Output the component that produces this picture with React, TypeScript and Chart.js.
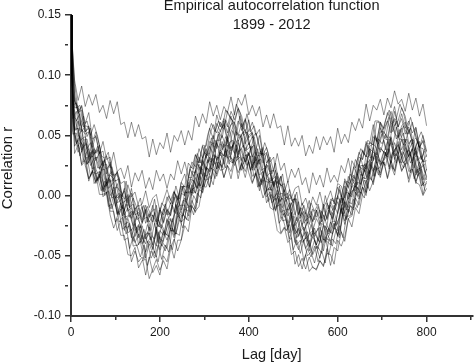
import { useEffect, useRef } from 'react';
import { Chart, registerables } from 'chart.js';

Chart.register(...registerables);

const TITLE_LINES = ['Empirical autocorrelation function', '1899 - 2012'];
const X_TITLE = 'Lag [day]';
const Y_TITLE = 'Correlation r';

const X_TICK_VALUES = [0, 100, 200, 300, 400, 500, 600, 700, 800, 900];
const X_LABELED_TICKS = [0, 200, 400, 600, 800];
const Y_LABELED_TICKS = [-0.1, -0.05, 0, 0.05, 0.1, 0.15];

// lag grid of the first group of runs
const LAGS_A = [0, 2,
  8, 16, 24, 32, 40, 48, 56, 64, 72, 80,
  88, 96, 104, 112, 120, 128, 136, 144, 152, 160,
  168, 176, 184, 192, 200, 208, 216, 224, 232, 240,
  248, 256, 264, 272, 280, 288, 296, 304, 312, 320,
  328, 336, 344, 352, 360, 368, 376, 384, 392, 400,
  408, 416, 424, 432, 440, 448, 456, 464, 472, 480,
  488, 496, 504, 512, 520, 528, 536, 544, 552, 560,
  568, 576, 584, 592, 600, 608, 616, 624, 632, 640,
  648, 656, 664, 672, 680, 688, 696, 704, 712, 720,
  728, 736, 744, 752, 760, 768, 776, 784, 792, 800];

// lag grid of the second group of runs
const LAGS_B = [0, 1,
  4, 12, 20, 28, 36, 44, 52, 60, 68, 76,
  84, 92, 100, 108, 116, 124, 132, 140, 148, 156,
  164, 172, 180, 188, 196, 204, 212, 220, 228, 236,
  244, 252, 260, 268, 276, 284, 292, 300, 308, 316,
  324, 332, 340, 348, 356, 364, 372, 380, 388, 396,
  404, 412, 420, 428, 436, 444, 452, 460, 468, 476,
  484, 492, 500, 508, 516, 524, 532, 540, 548, 556,
  564, 572, 580, 588, 596, 604, 612, 620, 628, 636,
  644, 652, 660, 668, 676, 684, 692, 700, 708, 716,
  724, 732, 740, 748, 756, 764, 772, 780, 788, 796];

const runA01 = [1, 0.11, 0.066, 0.049, 0.055, 0.034, 0.039, 0.022, 0.032, 0.022, 0.029, 0.010,
  0.014, 0.000, 0.010, -0.004, 0.006, -0.013, -0.010, -0.023, -0.010, -0.022,
  -0.011, -0.022, -0.016, -0.030, -0.012, -0.023, -0.012, -0.016, -0.001, -0.015,
  0.002, 0.000, 0.011, 0.002, 0.015, 0.008, 0.029, 0.021, 0.032, 0.025,
  0.044, 0.033, 0.043, 0.031, 0.041, 0.035, 0.046, 0.029, 0.040, 0.033,
  0.041, 0.023, 0.030, 0.018, 0.024, 0.005, 0.012, -0.001, 0.010, -0.003,
  -0.001, -0.017, -0.002, -0.020, -0.014, -0.021, -0.012, -0.029, -0.019, -0.025,
  -0.010, -0.020, -0.008, -0.014, -0.005, -0.015, 0.008, -0.003, 0.008, 0.004,
  0.022, 0.016, 0.026, 0.018, 0.040, 0.027, 0.040, 0.036, 0.045, 0.031,
  0.044, 0.035, 0.047, 0.035, 0.038, 0.027, 0.040, 0.024, 0.030, 0.013];

const runA02 = [1, 0.10, 0.054, 0.056, 0.038, 0.046, 0.031, 0.037, 0.018, 0.020, 0.004, 0.014,
  0.000, 0.005, -0.016, -0.011, -0.029, -0.019, -0.029, -0.023, -0.041, -0.033,
  -0.047, -0.038, -0.044, -0.030, -0.045, -0.030, -0.037, -0.027, -0.035, -0.014,
  -0.022, -0.011, -0.013, 0.006, 0.002, 0.019, 0.007, 0.024, 0.020, 0.034,
  0.022, 0.038, 0.033, 0.047, 0.039, 0.045, 0.032, 0.048, 0.033, 0.035,
  0.021, 0.032, 0.017, 0.020, 0.005, 0.015, -0.002, 0.002, -0.019, -0.015,
  -0.026, -0.017, -0.039, -0.028, -0.039, -0.035, -0.046, -0.031, -0.041, -0.033,
  -0.046, -0.031, -0.038, -0.027, -0.029, -0.010, -0.024, -0.005, -0.007, 0.008,
  -0.001, 0.015, 0.014, 0.030, 0.016, 0.036, 0.028, 0.037, 0.032, 0.049,
  0.036, 0.045, 0.031, 0.040, 0.033, 0.039, 0.019, 0.028, 0.013, 0.022];

const runA03 = [1, 0.12, 0.078, 0.074, 0.055, 0.051, 0.053, 0.032, 0.038, 0.037, 0.019, 0.008,
  0.013, 0.000, -0.015, -0.009, -0.011, -0.031, -0.028, -0.039, -0.032, -0.039,
  -0.052, -0.040, -0.048, -0.051, -0.034, -0.040, -0.044, -0.029, -0.030, -0.015,
  -0.022, -0.019, 0.002, 0.005, 0.007, 0.024, 0.016, 0.033, 0.041, 0.035,
  0.046, 0.046, 0.060, 0.047, 0.059, 0.061, 0.045, 0.051, 0.055, 0.042,
  0.049, 0.029, 0.035, 0.035, 0.014, 0.011, 0.011, -0.009, -0.007, -0.018,
  -0.013, -0.023, -0.038, -0.045, -0.035, -0.044, -0.037, -0.049, -0.042, -0.052,
  -0.036, -0.038, -0.041, -0.023, -0.033, -0.024, -0.005, -0.014, 0.003, 0.008,
  0.005, 0.025, 0.022, 0.039, 0.036, 0.034, 0.053, 0.053, 0.048, 0.063,
  0.052, 0.048, 0.058, 0.061, 0.043, 0.047, 0.032, 0.040, 0.028, 0.029];

const runA04 = [1, 0.10, 0.055, 0.056, 0.036, 0.044, 0.030, 0.033, 0.012, 0.016, 0.003, 0.010,
  -0.013, -0.013, -0.029, -0.021, -0.037, -0.035, -0.055, -0.046, -0.055, -0.051,
  -0.066, -0.051, -0.064, -0.058, -0.066, -0.050, -0.055, -0.041, -0.052, -0.037,
  -0.037, -0.017, -0.021, -0.008, -0.014, 0.005, 0.003, 0.024, 0.020, 0.031,
  0.022, 0.036, 0.033, 0.046, 0.034, 0.050, 0.036, 0.039, 0.028, 0.036,
  0.025, 0.030, 0.008, 0.014, -0.001, 0.003, -0.011, -0.008, -0.031, -0.026,
  -0.039, -0.035, -0.057, -0.049, -0.061, -0.049, -0.063, -0.059, -0.062, -0.054,
  -0.059, -0.044, -0.058, -0.043, -0.046, -0.030, -0.038, -0.019, -0.017, -0.002,
  -0.008, 0.007, 0.003, 0.026, 0.020, 0.033, 0.025, 0.036, 0.034, 0.048,
  0.030, 0.043, 0.034, 0.043, 0.032, 0.039, 0.017, 0.024, 0.008, 0.010];

const runA05 = [1, 0.11, 0.052, 0.041, 0.047, 0.039, 0.027, 0.038, 0.022, 0.015, 0.025, 0.026,
  0.011, 0.014, 0.020, 0.004, -0.003, 0.009, -0.001, 0.003, -0.009, -0.007,
  0.004, -0.010, -0.002, 0.001, -0.013, -0.004, 0.005, -0.004, 0.004, -0.004,
  0.011, 0.018, 0.006, 0.012, 0.021, 0.013, 0.030, 0.022, 0.022, 0.035,
  0.030, 0.036, 0.026, 0.042, 0.031, 0.029, 0.044, 0.036, 0.028, 0.035,
  0.023, 0.036, 0.023, 0.014, 0.026, 0.019, 0.009, 0.019, 0.008, 0.010,
  -0.003, -0.002, 0.006, 0.008, -0.008, -0.002, -0.012, -0.001, -0.008, 0.003,
  -0.010, -0.004, 0.004, -0.007, 0.010, 0.008, -0.002, 0.016, 0.009, 0.013,
  0.026, 0.016, 0.027, 0.019, 0.030, 0.039, 0.026, 0.030, 0.039, 0.027,
  0.038, 0.042, 0.030, 0.025, 0.038, 0.029, 0.037, 0.022, 0.026, 0.016];

const runA06 = [1, 0.13, 0.085, 0.068, 0.075, 0.053, 0.056, 0.040, 0.050, 0.035, 0.037, 0.018,
  0.028, 0.016, 0.019, -0.001, 0.004, -0.009, 0.002, -0.016, -0.014, -0.023,
  -0.012, -0.029, -0.016, -0.022, -0.010, -0.022, -0.011, -0.017, 0.003, -0.003,
  0.008, 0.000, 0.015, 0.015, 0.034, 0.027, 0.041, 0.031, 0.045, 0.043,
  0.060, 0.053, 0.062, 0.052, 0.066, 0.050, 0.062, 0.057, 0.063, 0.048,
  0.052, 0.038, 0.050, 0.033, 0.036, 0.020, 0.021, 0.006, 0.016, 0.000,
  0.002, -0.012, 0.001, -0.015, -0.010, -0.026, -0.015, -0.021, -0.012, -0.024,
  -0.016, -0.025, -0.005, -0.012, 0.000, -0.006, 0.014, 0.006, 0.016, 0.014,
  0.032, 0.030, 0.045, 0.033, 0.049, 0.045, 0.060, 0.055, 0.062, 0.052,
  0.070, 0.057, 0.064, 0.051, 0.057, 0.043, 0.056, 0.040, 0.045, 0.032];

const runA07 = [1, 0.10, 0.041, 0.046, 0.025, 0.029, 0.012, 0.021, 0.010, 0.018, -0.001, 0.003,
  -0.011, 0.000, -0.015, -0.006, -0.024, -0.022, -0.035, -0.023, -0.035, -0.025,
  -0.036, -0.031, -0.045, -0.028, -0.040, -0.029, -0.033, -0.019, -0.033, -0.017,
  -0.019, -0.008, -0.017, -0.004, -0.011, 0.010, 0.002, 0.014, 0.007, 0.026,
  0.016, 0.026, 0.015, 0.025, 0.020, 0.032, 0.014, 0.027, 0.020, 0.029,
  0.011, 0.018, 0.007, 0.013, -0.006, 0.001, -0.012, -0.001, -0.014, -0.012,
  -0.029, -0.014, -0.032, -0.027, -0.035, -0.026, -0.043, -0.034, -0.041, -0.026,
  -0.037, -0.025, -0.031, -0.023, -0.034, -0.011, -0.021, -0.011, -0.016, 0.003,
  -0.003, 0.007, 0.000, 0.021, 0.009, 0.023, 0.019, 0.028, 0.015, 0.029,
  0.020, 0.033, 0.021, 0.025, 0.014, 0.028, 0.012, 0.019, 0.001, 0.012];

const runA08 = [1, 0.12, 0.073, 0.073, 0.053, 0.058, 0.057, 0.039, 0.029, 0.036, 0.024, 0.010,
  0.017, 0.014, -0.006, -0.004, -0.016, -0.010, -0.019, -0.034, -0.025, -0.035,
  -0.040, -0.026, -0.034, -0.042, -0.029, -0.033, -0.020, -0.029, -0.029, -0.009,
  -0.008, -0.008, 0.009, 0.000, 0.018, 0.026, 0.021, 0.034, 0.035, 0.050,
  0.039, 0.054, 0.059, 0.045, 0.053, 0.060, 0.050, 0.060, 0.043, 0.050,
  0.053, 0.034, 0.033, 0.035, 0.016, 0.019, 0.007, 0.012, 0.001, -0.014,
  -0.023, -0.014, -0.025, -0.020, -0.035, -0.030, -0.042, -0.029, -0.034, -0.039,
  -0.025, -0.037, -0.030, -0.014, -0.024, -0.009, -0.005, -0.010, 0.009, 0.007,
  0.024, 0.022, 0.020, 0.041, 0.043, 0.039, 0.056, 0.048, 0.046, 0.059,
  0.064, 0.049, 0.056, 0.044, 0.055, 0.045, 0.048, 0.040, 0.039, 0.021];

const runA09 = [1, 0.13, 0.093, 0.070, 0.074, 0.060, 0.069, 0.047, 0.049, 0.035, 0.045, 0.030,
  0.032, 0.012, 0.020, 0.010, 0.012, -0.006, 0.006, -0.011, -0.008, -0.020,
  -0.008, -0.018, -0.008, -0.024, -0.012, -0.016, -0.001, -0.007, 0.003, -0.007,
  0.011, 0.007, 0.027, 0.023, 0.034, 0.027, 0.042, 0.041, 0.056, 0.047,
  0.067, 0.057, 0.064, 0.057, 0.070, 0.063, 0.072, 0.054, 0.064, 0.053,
  0.061, 0.050, 0.055, 0.034, 0.040, 0.028, 0.032, 0.010, 0.016, 0.003,
  0.012, -0.004, -0.003, -0.016, -0.006, -0.015, -0.004, -0.022, -0.012, -0.019,
  -0.007, -0.019, -0.003, -0.005, 0.007, -0.001, 0.012, 0.007, 0.029, 0.023,
  0.036, 0.030, 0.043, 0.043, 0.059, 0.045, 0.061, 0.056, 0.069, 0.063,
  0.074, 0.057, 0.068, 0.056, 0.062, 0.052, 0.057, 0.040, 0.050, 0.037];

const runA10 = [1, 0.10, 0.035, 0.042, 0.026, 0.034, 0.014, 0.020, 0.011, 0.020, 0.005, 0.011,
  -0.005, 0.007, -0.002, 0.001, -0.013, 0.001, -0.019, -0.010, -0.017, -0.009,
  -0.023, -0.015, -0.022, -0.008, -0.026, -0.011, -0.016, -0.006, -0.014, 0.000,
  -0.012, -0.002, -0.009, 0.009, 0.002, 0.011, 0.005, 0.023, 0.007, 0.022,
  0.018, 0.029, 0.015, 0.025, 0.014, 0.029, 0.019, 0.026, 0.015, 0.028,
  0.016, 0.019, 0.004, 0.018, 0.004, 0.007, -0.005, 0.005, -0.005, 0.005,
  -0.013, -0.006, -0.016, -0.005, -0.024, -0.014, -0.024, -0.011, -0.018, -0.012,
  -0.024, -0.006, -0.016, -0.008, -0.015, 0.000, -0.015, 0.002, -0.001, 0.011,
  0.002, 0.015, 0.002, 0.015, 0.011, 0.028, 0.017, 0.028, 0.014, 0.025,
  0.017, 0.032, 0.020, 0.027, 0.011, 0.022, 0.010, 0.023, 0.009, 0.016];

const runA11 = [1, 0.12, 0.081, 0.069, 0.071, 0.053, 0.058, 0.044, 0.053, 0.042, 0.025, 0.022,
  0.026, 0.006, 0.007, 0.003, -0.018, -0.017, -0.013, -0.029, -0.024, -0.040,
  -0.032, -0.031, -0.041, -0.026, -0.036, -0.038, -0.019, -0.028, -0.017, -0.007,
  -0.015, 0.003, 0.002, 0.020, 0.019, 0.032, 0.025, 0.034, 0.050, 0.059,
  0.052, 0.061, 0.055, 0.070, 0.064, 0.060, 0.073, 0.066, 0.052, 0.063,
  0.048, 0.052, 0.040, 0.027, 0.035, 0.026, 0.008, 0.016, -0.002, -0.004,
  -0.017, -0.012, -0.019, -0.034, -0.023, -0.036, -0.032, -0.029, -0.044, -0.039,
  -0.024, -0.031, -0.022, -0.028, -0.015, -0.002, -0.010, -0.001, 0.014, 0.008,
  0.026, 0.037, 0.032, 0.044, 0.042, 0.061, 0.061, 0.051, 0.062, 0.070,
  0.058, 0.062, 0.073, 0.066, 0.051, 0.061, 0.048, 0.040, 0.046, 0.036];

const runA12 = [1, 0.10, 0.052, 0.036, 0.044, 0.025, 0.014, 0.020, 0.018, 0.001, 0.001, 0.003,
  -0.016, -0.027, -0.019, -0.033, -0.033, -0.049, -0.050, -0.043, -0.060, -0.054,
  -0.053, -0.069, -0.061, -0.053, -0.062, -0.054, -0.061, -0.044, -0.036, -0.046,
  -0.037, -0.025, -0.030, -0.009, -0.013, -0.009, 0.008, 0.007, 0.016, 0.009,
  0.028, 0.021, 0.022, 0.038, 0.032, 0.025, 0.033, 0.021, 0.034, 0.019,
  0.010, 0.019, 0.010, -0.002, 0.005, -0.010, -0.012, -0.029, -0.032, -0.027,
  -0.030, -0.049, -0.046, -0.059, -0.052, -0.061, -0.051, -0.060, -0.061, -0.054,
  -0.058, -0.048, -0.049, -0.057, -0.037, -0.042, -0.034, -0.019, -0.026, -0.010,
  -0.015, 0.001, 0.013, 0.004, 0.012, 0.024, 0.015, 0.029, 0.035, 0.026,
  0.021, 0.036, 0.027, 0.035, 0.020, 0.022, 0.011, 0.009, 0.000, 0.006];

const runA13 = [1, 0.11, 0.054, 0.062, 0.047, 0.049, 0.032, 0.044, 0.035, 0.042, 0.025, 0.033,
  0.023, 0.036, 0.020, 0.023, 0.014, 0.025, 0.007, 0.019, 0.012, 0.021,
  0.006, 0.015, 0.005, 0.021, 0.012, 0.018, 0.006, 0.018, 0.013, 0.029,
  0.018, 0.028, 0.015, 0.028, 0.024, 0.039, 0.031, 0.039, 0.029, 0.044,
  0.029, 0.043, 0.040, 0.049, 0.037, 0.044, 0.034, 0.050, 0.037, 0.044,
  0.032, 0.038, 0.026, 0.040, 0.027, 0.032, 0.020, 0.035, 0.021, 0.027,
  0.011, 0.022, 0.015, 0.023, 0.009, 0.015, 0.002, 0.019, 0.009, 0.017,
  0.007, 0.023, 0.011, 0.017, 0.011, 0.025, 0.019, 0.031, 0.016, 0.030,
  0.024, 0.038, 0.032, 0.039, 0.029, 0.048, 0.036, 0.046, 0.035, 0.044,
  0.033, 0.050, 0.038, 0.047, 0.038, 0.044, 0.034, 0.045, 0.028, 0.034];

const runA14 = [1, 0.13, 0.096, 0.079, 0.091, 0.074, 0.084, 0.075, 0.084, 0.069, 0.075, 0.064,
  0.079, 0.068, 0.078, 0.059, 0.061, 0.048, 0.061, 0.049, 0.059, 0.047,
  0.049, 0.032, 0.047, 0.034, 0.044, 0.039, 0.052, 0.036, 0.050, 0.045,
  0.054, 0.042, 0.054, 0.046, 0.066, 0.057, 0.068, 0.060, 0.078, 0.066,
  0.075, 0.063, 0.074, 0.069, 0.082, 0.067, 0.081, 0.075, 0.084, 0.067,
  0.075, 0.066, 0.074, 0.057, 0.067, 0.056, 0.068, 0.056, 0.058, 0.042,
  0.058, 0.041, 0.048, 0.041, 0.050, 0.033, 0.042, 0.035, 0.049, 0.038,
  0.049, 0.042, 0.049, 0.036, 0.056, 0.043, 0.051, 0.044, 0.061, 0.054,
  0.064, 0.056, 0.076, 0.062, 0.075, 0.071, 0.080, 0.067, 0.081, 0.073,
  0.087, 0.076, 0.080, 0.070, 0.085, 0.071, 0.081, 0.066, 0.076, 0.058];

const runB01 = [1, 0.18, 0.067, 0.063, 0.045, 0.041, 0.043, 0.025, 0.031, 0.032, 0.016, 0.007,
  0.015, 0.004, -0.009, -0.001, -0.002, -0.020, -0.016, -0.025, -0.017, -0.024,
  -0.036, -0.024, -0.033, -0.036, -0.020, -0.027, -0.033, -0.019, -0.022, -0.008,
  -0.017, -0.017, 0.003, 0.003, 0.002, 0.018, 0.008, 0.023, 0.030, 0.022,
  0.033, 0.031, 0.045, 0.032, 0.044, 0.046, 0.031, 0.037, 0.042, 0.031,
  0.039, 0.021, 0.029, 0.030, 0.012, 0.011, 0.013, -0.004, 0.000, -0.010,
  -0.003, -0.011, -0.025, -0.031, -0.020, -0.029, -0.022, -0.034, -0.027, -0.038,
  -0.023, -0.026, -0.030, -0.014, -0.025, -0.018, -0.002, -0.012, 0.002, 0.005,
  0.000, 0.018, 0.014, 0.029, 0.024, 0.021, 0.039, 0.038, 0.033, 0.047,
  0.037, 0.033, 0.044, 0.047, 0.031, 0.036, 0.023, 0.033, 0.023, 0.026];

const runB02 = [1, 0.20, 0.075, 0.077, 0.058, 0.066, 0.049, 0.056, 0.035, 0.037, 0.021, 0.030,
  0.016, 0.020, -0.002, 0.002, -0.017, -0.007, -0.018, -0.013, -0.031, -0.025,
  -0.039, -0.030, -0.037, -0.023, -0.039, -0.024, -0.031, -0.021, -0.029, -0.007,
  -0.015, -0.004, -0.005, 0.014, 0.012, 0.029, 0.018, 0.036, 0.033, 0.048,
  0.036, 0.053, 0.048, 0.063, 0.056, 0.062, 0.050, 0.066, 0.050, 0.053,
  0.038, 0.049, 0.035, 0.037, 0.022, 0.030, 0.013, 0.016, -0.005, -0.002,
  -0.014, -0.006, -0.029, -0.018, -0.030, -0.026, -0.038, -0.024, -0.034, -0.027,
  -0.039, -0.025, -0.032, -0.021, -0.022, -0.004, -0.017, 0.003, 0.001, 0.017,
  0.009, 0.025, 0.025, 0.042, 0.029, 0.050, 0.043, 0.052, 0.048, 0.065,
  0.053, 0.062, 0.049, 0.058, 0.051, 0.056, 0.037, 0.045, 0.030, 0.039];

const runB03 = [1, 0.16, 0.051, 0.052, 0.033, 0.041, 0.026, 0.031, 0.010, 0.015, 0.004, 0.012,
  -0.009, -0.007, -0.022, -0.013, -0.028, -0.025, -0.044, -0.034, -0.042, -0.038,
  -0.053, -0.038, -0.052, -0.046, -0.055, -0.040, -0.046, -0.033, -0.045, -0.031,
  -0.033, -0.015, -0.020, -0.008, -0.016, 0.002, -0.002, 0.019, 0.013, 0.023,
  0.014, 0.028, 0.024, 0.037, 0.026, 0.042, 0.029, 0.032, 0.022, 0.031,
  0.021, 0.028, 0.007, 0.014, 0.001, 0.006, -0.006, -0.002, -0.023, -0.018,
  -0.029, -0.024, -0.045, -0.037, -0.048, -0.037, -0.050, -0.047, -0.056, -0.043,
  -0.048, -0.034, -0.049, -0.036, -0.040, -0.025, -0.035, -0.017, -0.017, -0.003,
  -0.010, 0.003, -0.002, 0.020, 0.013, 0.025, 0.017, 0.028, 0.025, 0.039,
  0.022, 0.035, 0.027, 0.036, 0.026, 0.034, 0.014, 0.022, 0.008, 0.011];

const runB04 = [1, 0.19, 0.064, 0.070, 0.054, 0.061, 0.039, 0.044, 0.034, 0.041, 0.025, 0.030,
  0.013, 0.024, 0.012, 0.014, -0.001, 0.012, -0.010, -0.002, -0.010, -0.002,
  -0.018, -0.009, -0.017, -0.003, -0.021, -0.006, -0.010, 0.000, -0.007, 0.008,
  -0.003, 0.008, 0.002, 0.022, 0.016, 0.026, 0.022, 0.041, 0.027, 0.043,
  0.040, 0.051, 0.038, 0.049, 0.039, 0.054, 0.044, 0.051, 0.040, 0.053,
  0.039, 0.042, 0.026, 0.039, 0.024, 0.025, 0.012, 0.021, 0.009, 0.018,
  -0.002, 0.005, -0.006, 0.003, -0.017, -0.008, -0.018, -0.006, -0.013, -0.007,
  -0.019, 0.000, -0.011, -0.002, -0.008, 0.008, -0.006, 0.012, 0.010, 0.024,
  0.017, 0.031, 0.020, 0.033, 0.031, 0.049, 0.039, 0.051, 0.038, 0.049,
  0.042, 0.057, 0.046, 0.052, 0.036, 0.046, 0.034, 0.046, 0.030, 0.037];

const runB05 = [1, 0.20, 0.079, 0.062, 0.068, 0.046, 0.047, 0.031, 0.039, 0.023, 0.024, 0.003,
  0.013, -0.002, 0.000, -0.022, -0.018, -0.032, -0.023, -0.042, -0.041, -0.051,
  -0.041, -0.058, -0.046, -0.052, -0.041, -0.053, -0.041, -0.047, -0.027, -0.032,
  -0.020, -0.027, -0.010, -0.009, 0.012, 0.006, 0.022, 0.013, 0.029, 0.028,
  0.046, 0.040, 0.050, 0.041, 0.056, 0.040, 0.053, 0.048, 0.053, 0.038,
  0.041, 0.027, 0.039, 0.021, 0.023, 0.005, 0.005, -0.013, -0.003, -0.021,
  -0.020, -0.036, -0.024, -0.041, -0.037, -0.054, -0.044, -0.051, -0.042, -0.055,
  -0.046, -0.056, -0.036, -0.042, -0.029, -0.035, -0.014, -0.020, -0.009, -0.010,
  0.011, 0.010, 0.026, 0.015, 0.033, 0.030, 0.047, 0.043, 0.051, 0.041,
  0.060, 0.047, 0.055, 0.042, 0.047, 0.033, 0.046, 0.029, 0.033, 0.019];

const runB06 = [1, 0.17, 0.054, 0.043, 0.049, 0.039, 0.026, 0.036, 0.020, 0.012, 0.021, 0.022,
  0.006, 0.009, 0.013, -0.003, -0.011, 0.000, -0.010, -0.007, -0.020, -0.018,
  -0.008, -0.022, -0.014, -0.011, -0.026, -0.017, -0.007, -0.016, -0.008, -0.015,
  0.001, 0.008, -0.004, 0.003, 0.013, 0.006, 0.024, 0.016, 0.017, 0.031,
  0.026, 0.032, 0.023, 0.039, 0.029, 0.027, 0.042, 0.034, 0.026, 0.034,
  0.021, 0.033, 0.020, 0.011, 0.022, 0.014, 0.004, 0.013, 0.001, 0.002,
  -0.012, -0.011, -0.003, -0.003, -0.019, -0.013, -0.023, -0.013, -0.020, -0.009,
  -0.022, -0.016, -0.008, -0.019, -0.002, -0.003, -0.012, 0.006, -0.001, 0.005,
  0.018, 0.009, 0.021, 0.013, 0.025, 0.035, 0.022, 0.027, 0.036, 0.024,
  0.036, 0.040, 0.029, 0.023, 0.037, 0.027, 0.035, 0.019, 0.023, 0.013];

const runB07 = [1, 0.19, 0.085, 0.073, 0.075, 0.057, 0.062, 0.050, 0.059, 0.049, 0.033, 0.031,
  0.036, 0.017, 0.018, 0.015, -0.006, -0.004, 0.000, -0.016, -0.010, -0.027,
  -0.019, -0.018, -0.029, -0.014, -0.025, -0.027, -0.010, -0.019, -0.009, 0.001,
  -0.008, 0.008, 0.007, 0.024, 0.022, 0.035, 0.027, 0.036, 0.051, 0.060,
  0.053, 0.062, 0.056, 0.071, 0.066, 0.062, 0.076, 0.069, 0.055, 0.068,
  0.053, 0.058, 0.047, 0.034, 0.044, 0.035, 0.018, 0.027, 0.010, 0.008,
  -0.005, 0.001, -0.006, -0.021, -0.010, -0.023, -0.019, -0.017, -0.032, -0.028,
  -0.013, -0.021, -0.012, -0.020, -0.007, 0.005, -0.004, 0.005, 0.018, 0.012,
  0.029, 0.039, 0.034, 0.046, 0.043, 0.062, 0.062, 0.052, 0.063, 0.071,
  0.060, 0.064, 0.076, 0.069, 0.055, 0.065, 0.054, 0.046, 0.053, 0.044];

const runB08 = [1, 0.17, 0.062, 0.044, 0.050, 0.028, 0.032, 0.016, 0.024, 0.013, 0.020, 0.000,
  0.004, -0.011, -0.001, -0.016, -0.008, -0.027, -0.025, -0.038, -0.026, -0.039,
  -0.028, -0.039, -0.034, -0.048, -0.030, -0.042, -0.031, -0.034, -0.019, -0.032,
  -0.015, -0.017, -0.005, -0.014, 0.000, -0.006, 0.016, 0.008, 0.021, 0.014,
  0.034, 0.023, 0.034, 0.023, 0.033, 0.027, 0.039, 0.021, 0.032, 0.025,
  0.033, 0.015, 0.022, 0.009, 0.015, -0.005, 0.001, -0.012, -0.002, -0.016,
  -0.014, -0.031, -0.017, -0.035, -0.030, -0.038, -0.030, -0.047, -0.037, -0.044,
  -0.029, -0.039, -0.027, -0.032, -0.022, -0.033, -0.010, -0.019, -0.008, -0.012,
  0.007, 0.002, 0.013, 0.006, 0.028, 0.016, 0.030, 0.026, 0.036, 0.022,
  0.036, 0.027, 0.040, 0.027, 0.031, 0.019, 0.032, 0.016, 0.022, 0.004];

const RUNS_A = [runA01, runA02, runA03, runA04, runA05, runA06, runA07, runA08, runA09, runA10, runA11, runA12, runA13, runA14];
const RUNS_B = [runB01, runB02, runB03, runB04, runB05, runB06, runB07, runB08];

const FONT_FAMILY = '"Liberation Sans", Arial, Helvetica, sans-serif';
const LINE_COLOR = 'rgba(0, 0, 0, 0.42)';
const AXIS_COLOR = '#333333';
const TEXT_COLOR = '#1a1a1a';

const isXLabeled = (v: number) => X_LABELED_TICKS.some((t) => Math.abs(t - v) < 1e-6);
const isYLabeled = (v: number) => Y_LABELED_TICKS.some((t) => Math.abs(t - v) < 1e-9);

const textPlugin = {
  id: 'freeTexts',
  afterDraw(chart: any) {
    const { ctx, chartArea } = chart;
    const cx = (chartArea.left + chartArea.right) / 2;
    ctx.save();
    ctx.fillStyle = TEXT_COLOR;
    ctx.textAlign = 'center';
    ctx.textBaseline = 'alphabetic';
    ctx.font = `14.6px ${FONT_FAMILY}`;
    ctx.fillText(TITLE_LINES[0], cx, chartArea.top - 5);
    ctx.fillText(TITLE_LINES[1], cx, chartArea.top + 14);
    ctx.font = `14.5px ${FONT_FAMILY}`;
    ctx.fillText(X_TITLE, cx, chartArea.bottom + 43);
    ctx.font = `15px ${FONT_FAMILY}`;
    ctx.translate(12, (chartArea.top + chartArea.bottom) / 2 + 2.5);
    ctx.rotate(-Math.PI / 2);
    ctx.fillText(Y_TITLE, 0, 0);
    ctx.restore();
  },
};

const makeDataset = (run: number[], lags: number[], k: number) => ({
  label: `run ${k + 1}`,
  data: run.map((y, i) => ({ x: lags[i], y })),
  borderColor: LINE_COLOR,
  borderWidth: 1,
  pointRadius: 0,
  tension: 0,
  fill: false,
});

export default function App() {
  const canvasRef = useRef<HTMLCanvasElement | null>(null);

  useEffect(() => {
    const canvas = canvasRef.current;
    if (!canvas) return;
    const datasets = [
      ...RUNS_A.map((run, k) => makeDataset(run, LAGS_A, k)),
      ...RUNS_B.map((run, k) => makeDataset(run, LAGS_B, RUNS_A.length + k)),
    ];
    const chart = new Chart(canvas, {
      type: 'line',
      data: { datasets },
      options: {
        animation: false,
        responsive: false,
        devicePixelRatio: 1,
        parsing: false,
        events: [],
        layout: { padding: { top: 15, left: 0, right: 0, bottom: 0 } },
        plugins: {
          legend: { display: false },
          tooltip: { enabled: false },
          title: { display: false },
        },
        scales: {
          x: {
            type: 'linear',
            min: 0,
            max: 903,
            afterFit: (s: any) => {
              s.height = 47;
            },
            afterBuildTicks: (s: any) => {
              s.ticks = X_TICK_VALUES.map((value) => ({ value }));
            },
            ticks: {
              autoSkip: false,
              maxRotation: 0,
              padding: 3,
              color: TEXT_COLOR,
              font: { family: FONT_FAMILY, size: 12 },
              callback: (v: any) => (isXLabeled(Number(v)) ? String(v) : ''),
            },
            grid: {
              drawOnChartArea: false,
              tickLength: 6,
              color: AXIS_COLOR,
              lineWidth: 1.5,
              tickBorderDash: (c: any) => (c.tick && isXLabeled(c.tick.value) ? [] : [3, 30]),
            },
            border: { display: true, color: AXIS_COLOR, width: 2 },
          },
          y: {
            type: 'linear',
            min: -0.1,
            max: 0.15,
            afterFit: (s: any) => {
              s.width = 71;
            },
            ticks: {
              stepSize: 0.025,
              autoSkip: false,
              includeBounds: false,
              padding: 4,
              color: TEXT_COLOR,
              font: { family: FONT_FAMILY, size: 12 },
              callback: (v: any) => (isYLabeled(Number(v)) ? Number(v).toFixed(2) : ''),
            },
            grid: {
              drawOnChartArea: false,
              tickLength: 6,
              color: AXIS_COLOR,
              lineWidth: 1.5,
              tickBorderDash: (c: any) => (c.tick && isYLabeled(c.tick.value) ? [] : [3, 30]),
            },
            border: { display: true, color: AXIS_COLOR, width: 2 },
          },
        },
      },
      plugins: [textPlugin],
    } as any);
    return () => chart.destroy();
  }, []);

  return (
    <div style={{ position: 'fixed', left: 0, top: 0, width: 474, height: 363, background: '#ffffff' }}>
      <canvas ref={canvasRef} width={474} height={363} style={{ display: 'block', width: 474, height: 363 }} />
    </div>
  );
}
